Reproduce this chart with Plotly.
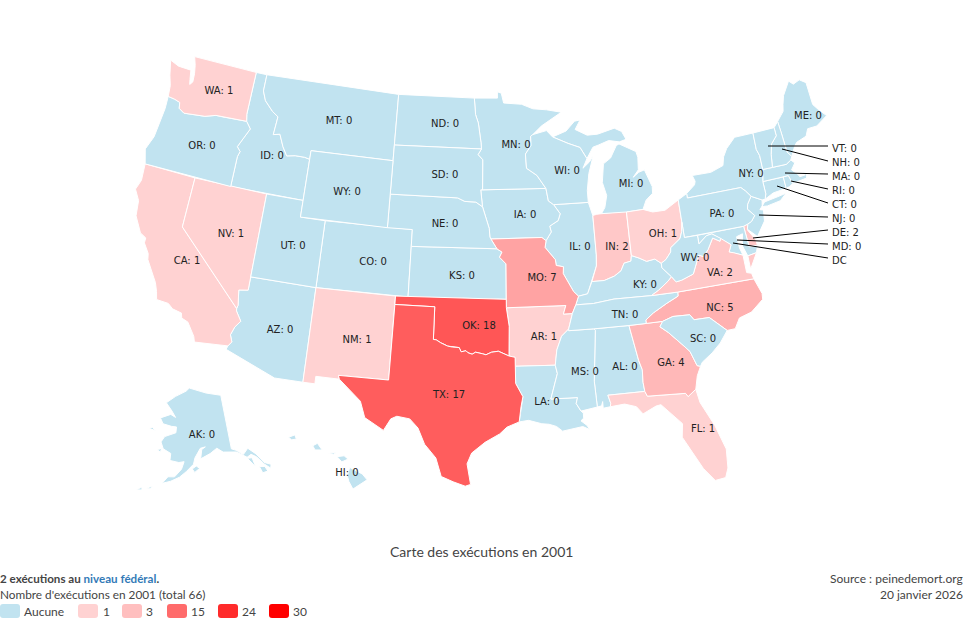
import math
import numpy as np
import plotly.graph_objects as go

# Plotly's own US map needs a topojson from the CDN, so state outlines are kept here (lon, lat)
states = ["AL","AK","AZ","AR","CA","CO","CT","DE","DC","FL","GA","HI","ID","IL","IN","IA","KS","KY","LA","ME","MD","MA","MI","MN","MS","MO","MT","NE","NV","NH","NJ","NM","NY","NC","ND","OH","OK","OR","PA","RI","SC","SD","TN","TX","UT","VT","VA","WA","WV","WI","WY"]
executions = [0,0,0,1,1,0,0,2,None,1,4,0,0,0,2,0,0,0,0,0,0,0,0,0,0,7,0,0,1,0,0,1,0,5,0,1,18,0,0,0,0,0,0,17,0,0,2,1,0,0,0]

legend_values = [1, 3, 15, 24, 30]
legend_reds = [210, 191, 107, 43, 0]

red_river = [(-100,34.56),(-99.8,34.55),(-99.45,34.38),(-99.2,34.3),(-98.95,34.2),(-98.6,34.15),(-98.1,34.13),(-97.95,33.88),(-97.6,33.95),(-97.45,33.83),(-97.15,33.75),(-96.9,33.87),(-96.6,33.83),(-96.4,33.78),(-96.15,33.72),(-95.75,33.87),(-95.25,33.93),(-94.9,33.8),(-94.48,33.64)]

outlines = {
"WA": [[(-124.0,46.25),(-124.1,46.9),(-124.4,47.5),(-124.73,48.38),(-123.9,48.17),(-123.1,48.15),(-122.75,48.15),(-122.6,47.6),(-122.5,47.3),(-122.3,47.5),(-122.35,48.0),(-122.5,48.5),(-122.76,49.0),(-117.03,49),(-117.04,46.42),(-116.92,46.0),(-119.0,45.93),(-119.6,45.92),(-120.5,45.7),(-121.2,45.65),(-122.3,45.55),(-122.8,45.75),(-122.9,46.1),(-123.4,46.2)]],
"OR": [[(-124.2,42),(-124.55,42.85),(-124.15,43.7),(-124.05,44.7),(-123.95,45.5),(-124.0,46.25),(-123.4,46.2),(-122.9,46.1),(-122.8,45.75),(-122.3,45.55),(-121.2,45.65),(-120.5,45.7),(-119.6,45.92),(-119.0,45.93),(-116.92,46.0),(-116.47,45.6),(-116.85,45.0),(-117.22,44.4),(-116.9,44.15),(-117.03,43.83),(-117.03,42)]],
"ID": [[(-117.03,49),(-116.05,49),(-116.05,48.0),(-115.7,47.45),(-114.9,46.9),(-114.35,46.65),(-114.45,45.55),(-113.9,45.65),(-113.45,44.95),(-113.0,44.45),(-112.3,44.55),(-111.5,44.55),(-111.05,44.48),(-111.05,42),(-117.03,42),(-117.03,43.83),(-116.9,44.15),(-117.22,44.4),(-116.85,45.0),(-116.47,45.6),(-116.92,46.0),(-117.04,46.42)]],
"MT": [[(-116.05,49),(-104.05,49),(-104.05,45),(-111.05,45),(-111.05,44.48),(-111.5,44.55),(-112.3,44.55),(-113.0,44.45),(-113.45,44.95),(-113.9,45.65),(-114.45,45.55),(-114.35,46.65),(-114.9,46.9),(-115.7,47.45),(-116.05,48.0)]],
"WY": [[(-111.05,45),(-104.05,45),(-104.05,41),(-111.05,41)]],
"UT": [[(-114.05,42),(-111.05,42),(-111.05,41),(-109.05,41),(-109.05,37),(-114.05,37)]],
"CO": [[(-109.05,41),(-102.05,41),(-102.05,37),(-109.05,37)]],
"NM": [[(-109.05,37),(-103.0,37),(-103.05,32),(-106.62,32),(-106.53,31.78),(-108.2,31.78),(-108.2,31.33),(-109.05,31.33)]],
"AZ": [[(-114.05,37),(-109.05,37),(-109.05,31.33),(-111.07,31.33),(-114.8,32.5),(-114.72,32.72),(-114.5,33.0),(-114.7,33.4),(-114.5,33.9),(-114.15,34.3),(-114.6,34.85),(-114.63,35.0),(-114.57,35.2),(-114.74,36.1),(-114.05,36.2)]],
"NV": [[(-120,42),(-114.05,42),(-114.05,36.2),(-114.74,36.1),(-114.57,35.2),(-114.63,35.0),(-120,39)]],
"CA": [[(-124.2,42),(-120,42),(-120,39),(-114.63,35.0),(-114.6,34.85),(-114.15,34.3),(-114.5,33.9),(-114.7,33.4),(-114.5,33.0),(-114.72,32.72),(-117.12,32.53),(-117.25,32.85),(-117.9,33.6),(-118.4,33.75),(-118.5,34.03),(-119.2,34.15),(-119.6,34.4),(-120.5,34.45),(-120.65,34.9),(-120.9,35.4),(-121.9,36.6),(-122.0,36.95),(-122.5,37.5),(-122.5,37.8),(-123.0,38.0),(-123.7,38.9),(-123.85,39.8),(-124.35,40.4),(-124.1,41.0)]],
"ND": [[(-104.05,49),(-97.23,49),(-97.1,48.0),(-96.85,47.5),(-96.6,46.3),(-96.56,45.94),(-104.05,45.94)]],
"SD": [[(-104.05,45.94),(-96.56,45.94),(-96.85,45.6),(-96.45,45.3),(-96.45,43.5),(-96.6,43.5),(-96.45,42.5),(-97.0,42.77),(-97.9,42.8),(-98.5,43.0),(-104.05,43)]],
"NE": [[(-104.05,43),(-98.5,43),(-97.9,42.8),(-97.0,42.77),(-96.45,42.5),(-96.1,41.7),(-95.9,41.2),(-95.85,40.7),(-95.77,40.58),(-95.3,40),(-102.05,40),(-102.05,41),(-104.05,41)]],
"KS": [[(-102.05,40),(-95.3,40),(-94.9,39.8),(-95.1,39.5),(-94.6,39.1),(-94.62,37),(-102.05,37)]],
"OK": [[(-103,37),(-94.62,37),(-94.62,36.5),(-94.43,35.4)] + red_river[::-1] + [(-100,36.5),(-103,36.5)]],
"TX": [[(-103,36.5),(-100,36.5)] + red_river + [(-94.04,33.55),(-94.04,33.02),(-94.04,32.0),(-93.55,31.2),(-93.7,30.6),(-93.85,29.7),(-94.7,29.4),(-95.2,29.0),(-96.2,28.5),(-97.1,27.85),(-97.4,27.2),(-97.15,25.96),(-97.5,25.85),(-98.3,26.1),(-99.1,26.4),(-99.5,27.5),(-100.3,28.3),(-100.8,29.25),(-101.4,29.77),(-102.3,29.88),(-102.7,29.7),(-103.15,28.98),(-104.5,29.65),(-104.9,30.6),(-106.0,31.4),(-106.53,31.78),(-106.62,32),(-103.05,32)]],
"MN": [[(-97.23,49),(-95.15,49),(-95.15,49.38),(-94.8,49.3),(-94.6,48.7),(-93.0,48.6),(-92.0,48.3),(-90.8,48.2),(-89.5,48.0),(-91.3,47.25),(-92.1,46.75),(-92.3,46.65),(-92.29,46.1),(-92.8,45.6),(-92.75,44.75),(-91.9,44.3),(-91.2,43.5),(-96.45,43.5),(-96.45,45.3),(-96.85,45.6),(-96.56,45.94),(-96.6,46.3),(-96.85,47.5),(-97.1,48.0)]],
"IA": [[(-96.6,43.5),(-91.2,43.5),(-91.05,42.75),(-90.64,42.51),(-90.15,41.95),(-90.35,41.55),(-91.05,41.25),(-90.95,40.9),(-91.4,40.4),(-91.72,40.6),(-95.77,40.58),(-95.85,40.7),(-95.9,41.2),(-96.1,41.7),(-96.45,42.5)]],
"MO": [[(-95.77,40.58),(-91.72,40.6),(-91.4,40.4),(-91.5,40.0),(-90.75,39.25),(-90.7,38.9),(-90.15,38.8),(-90.2,38.4),(-89.5,37.3),(-89.15,37.0),(-89.4,36.5),(-89.7,36.0),(-90.37,36.0),(-90.15,36.5),(-94.62,36.5),(-94.62,37),(-94.6,39.1),(-95.1,39.5),(-94.9,39.8),(-95.3,40)]],
"AR": [[(-94.62,36.5),(-90.15,36.5),(-90.37,36.0),(-89.7,36.0),(-90.05,35.1),(-90.6,34.7),(-91.0,33.9),(-91.17,33.0),(-94.04,33.02),(-94.04,33.55),(-94.48,33.64),(-94.43,35.4)]],
"LA": [[(-94.04,33.02),(-91.17,33.0),(-91.05,32.5),(-91.6,31.0),(-89.73,31.0),(-89.85,30.65),(-89.55,30.18),(-89.4,30.05),(-89.4,29.75),(-89.6,29.6),(-89.2,29.3),(-89.05,29.05),(-89.5,29.25),(-90.1,29.15),(-90.9,29.05),(-91.3,29.35),(-91.8,29.5),(-92.3,29.55),(-93.2,29.78),(-93.85,29.7),(-93.7,30.6),(-93.55,31.2),(-94.04,32.0)]],
"MS": [[(-90.05,35.0),(-88.2,35.0),(-88.1,34.9),(-88.47,31.9),(-88.4,30.35),(-89.55,30.18),(-89.85,30.65),(-89.73,31.0),(-91.6,31.0),(-91.05,32.5),(-91.17,33.0),(-91.0,33.9),(-90.6,34.7),(-90.05,35.1)]],
"AL": [[(-88.2,35.0),(-85.6,35.0),(-85.18,32.87),(-85.0,32.3),(-85.05,31.55),(-85.0,31.0),(-87.6,31.0),(-87.45,30.5),(-87.5,30.3),(-88.0,30.25),(-88.0,30.65),(-88.1,30.4),(-88.4,30.35),(-88.47,31.9),(-88.1,34.9)]],
"GA": [[(-85.6,35.0),(-83.1,35.0),(-83.35,34.7),(-82.8,34.3),(-81.95,33.5),(-81.45,33.0),(-81.1,32.1),(-80.87,32.03),(-81.2,31.5),(-81.45,30.72),(-82.05,30.36),(-82.2,30.57),(-84.86,30.7),(-85.0,31.0),(-85.05,31.55),(-85.0,32.3),(-85.18,32.87)]],
"FL": [[(-87.6,31.0),(-85.0,31.0),(-84.86,30.7),(-82.2,30.57),(-82.05,30.36),(-81.45,30.72),(-81.3,29.9),(-80.9,29.05),(-80.55,28.4),(-80.05,26.9),(-80.15,25.75),(-80.4,25.2),(-81.1,25.13),(-81.75,25.95),(-82.15,26.7),(-82.65,27.6),(-82.85,28.0),(-82.7,28.8),(-83.4,29.5),(-84.0,30.1),(-84.35,30.05),(-85.3,29.68),(-85.7,30.15),(-86.5,30.38),(-87.5,30.3),(-87.45,30.5)]],
"SC": [[(-83.1,35.0),(-82.3,35.2),(-81.05,35.15),(-80.8,34.82),(-79.67,34.8),(-78.55,33.86),(-79.2,33.2),(-79.9,32.7),(-80.7,32.25),(-80.87,32.03),(-81.1,32.1),(-81.45,33.0),(-81.95,33.5),(-82.8,34.3),(-83.35,34.7)]],
"NC": [[(-84.32,35.0),(-83.1,35.0),(-82.3,35.2),(-81.05,35.15),(-80.8,34.82),(-79.67,34.8),(-78.55,33.86),(-77.95,33.87),(-77.5,34.45),(-76.55,34.65),(-75.55,35.25),(-75.5,35.6),(-75.87,36.55),(-81.68,36.59),(-81.7,36.35),(-82.6,36.03),(-83.7,35.57),(-84.32,35.2)]],
"TN": [[(-90.05,35.0),(-88.2,35.0),(-85.6,35.0),(-84.32,35.0),(-84.32,35.2),(-83.7,35.57),(-82.6,36.03),(-81.7,36.35),(-81.68,36.59),(-83.68,36.6),(-86.5,36.65),(-88.07,36.5),(-89.4,36.5),(-89.7,36.0),(-90.05,35.1)]],
"KY": [[(-89.4,36.5),(-88.07,36.5),(-86.5,36.65),(-83.68,36.6),(-83.1,36.85),(-82.3,37.3),(-81.97,37.54),(-82.6,38.15),(-82.6,38.42),(-83.05,38.72),(-83.7,38.65),(-84.25,38.9),(-84.82,39.1),(-84.9,38.78),(-85.45,38.7),(-85.75,38.27),(-86.3,38.0),(-87.1,37.8),(-88.05,37.8),(-88.45,37.1),(-89.15,37.0)]],
"IL": [[(-90.64,42.51),(-87.8,42.5),(-87.53,41.7),(-87.53,39.35),(-87.6,38.7),(-88.05,37.8),(-88.45,37.1),(-89.15,37.0),(-89.5,37.3),(-90.2,38.4),(-90.15,38.8),(-90.7,38.9),(-90.75,39.25),(-91.5,40.0),(-91.4,40.4),(-90.95,40.9),(-91.05,41.25),(-90.35,41.55),(-90.15,41.95)]],
"IN": [[(-87.53,41.7),(-87.2,41.75),(-86.82,41.76),(-84.8,41.76),(-84.82,39.1),(-84.9,38.78),(-85.45,38.7),(-85.75,38.27),(-86.3,38.0),(-87.1,37.8),(-88.05,37.8),(-87.6,38.7),(-87.53,39.35)]],
"OH": [[(-84.8,41.7),(-83.45,41.73),(-82.7,41.5),(-81.7,41.5),(-80.52,41.98),(-80.52,40.64),(-80.65,40.1),(-80.87,39.7),(-81.7,39.25),(-81.75,39.0),(-82.2,38.6),(-82.6,38.42),(-83.05,38.72),(-83.7,38.65),(-84.25,38.9),(-84.82,39.1)]],
"MI": [[(-86.82,41.76),(-86.5,42.1),(-86.25,42.8),(-86.5,43.6),(-86.25,44.7),(-85.6,45.0),(-85.0,45.7),(-84.75,45.78),(-83.4,45.2),(-83.3,44.85),(-83.4,44.1),(-83.9,43.7),(-83.4,43.95),(-82.9,44.05),(-82.45,43.0),(-82.5,42.6),(-83.1,42.25),(-83.45,41.73),(-84.8,41.7)],
       [(-90.4,46.55),(-89.2,46.85),(-88.4,47.4),(-87.9,47.45),(-88.4,46.9),(-87.4,46.5),(-86.5,46.5),(-85.0,46.75),(-84.4,46.5),(-84.1,46.0),(-84.7,45.9),(-85.6,46.05),(-86.5,45.85),(-87.0,45.75),(-87.6,45.1),(-88.1,45.8),(-89.1,46.1)]],
"WI": [[(-92.1,46.75),(-90.9,46.95),(-90.4,46.55),(-89.1,46.1),(-88.1,45.8),(-87.6,45.1),(-88.0,44.55),(-87.4,44.9),(-87.05,45.25),(-87.55,44.2),(-87.8,43.2),(-87.8,42.5),(-90.64,42.51),(-91.05,42.75),(-91.2,43.5),(-91.9,44.3),(-92.75,44.75),(-92.8,45.6),(-92.29,46.1),(-92.3,46.65)]],
"PA": [[(-80.52,41.98),(-79.76,42.27),(-79.76,42.0),(-75.35,42.0),(-75.05,41.75),(-74.7,41.36),(-75.1,40.95),(-75.2,40.65),(-74.75,40.2),(-75.1,39.9),(-75.42,39.8),(-75.79,39.72),(-80.52,39.72),(-80.52,40.64)]],
"NY": [[(-79.76,42.27),(-79.0,42.7),(-78.9,42.9),(-79.05,43.27),(-77.5,43.25),(-76.4,43.5),(-76.2,44.0),(-75.8,44.45),(-74.95,45.0),(-73.35,45.0),(-73.4,44.0),(-73.25,43.6),(-73.27,42.75),(-73.5,42.05),(-73.5,41.3),(-73.65,41.0),(-73.9,41.0),(-74.7,41.36),(-75.05,41.75),(-75.35,42.0),(-79.76,42.0)],
       [(-74.03,40.62),(-73.75,40.85),(-72.6,40.97),(-71.9,41.05),(-72.5,40.7),(-73.6,40.58)]],
"NJ": [[(-74.7,41.36),(-73.9,41.0),(-74.0,40.65),(-74.25,40.47),(-73.98,40.4),(-74.1,39.75),(-74.9,38.95),(-75.55,39.5),(-75.42,39.8),(-75.1,39.9),(-74.75,40.2),(-75.2,40.65),(-75.1,40.95)]],
"DE": [[(-75.79,39.72),(-75.42,39.8),(-75.55,39.45),(-75.1,38.8),(-75.05,38.45),(-75.7,38.46)]],
"MD": [[(-79.48,39.72),(-75.79,39.72),(-75.7,38.46),(-75.05,38.45),(-75.25,38.03),(-75.95,37.95),(-76.2,38.6),(-76.0,39.3),(-76.5,39.2),(-76.45,38.5),(-76.3,38.05),(-76.95,38.3),(-77.3,38.4),(-77.04,38.8),(-77.5,39.1),(-77.75,39.3),(-78.35,39.65),(-78.8,39.6),(-79.48,39.2)]],
"DC": [[(-77.12,38.93),(-77.04,39.0),(-76.91,38.89),(-77.04,38.79)]],
"VA": [[(-83.68,36.6),(-81.68,36.59),(-75.87,36.55),(-75.95,36.9),(-76.3,37.0),(-76.3,37.55),(-76.3,38.05),(-76.95,38.3),(-77.3,38.4),(-77.04,38.8),(-77.5,39.1),(-77.75,39.3),(-77.83,39.13),(-78.35,39.4),(-78.87,38.77),(-79.3,38.42),(-79.65,38.55),(-80.3,37.5),(-81.25,37.25),(-81.68,37.2),(-81.97,37.54),(-82.3,37.3),(-83.1,36.85)],
       [(-75.25,38.03),(-75.95,37.95),(-75.95,37.15),(-75.6,37.6)]],
"WV": [[(-80.52,40.64),(-80.52,39.72),(-79.48,39.72),(-79.48,39.2),(-78.8,39.6),(-78.35,39.65),(-77.75,39.3),(-77.83,39.13),(-78.35,39.4),(-78.87,38.77),(-79.3,38.42),(-79.65,38.55),(-80.3,37.5),(-81.25,37.25),(-81.68,37.2),(-81.97,37.54),(-82.6,38.15),(-82.6,38.42),(-82.2,38.6),(-81.75,39.0),(-81.7,39.25),(-80.87,39.7),(-80.65,40.1)]],
"CT": [[(-73.5,42.05),(-71.8,42.02),(-71.8,41.42),(-71.85,41.32),(-72.9,41.25),(-73.65,41.0),(-73.5,41.3)]],
"RI": [[(-71.8,42.02),(-71.38,42.02),(-71.2,41.5),(-71.5,41.37),(-71.85,41.32),(-71.8,41.42)]],
"MA": [[(-73.5,42.05),(-73.27,42.75),(-72.46,42.73),(-71.3,42.7),(-70.85,42.88),(-70.6,42.65),(-71.0,42.3),(-70.6,41.95),(-70.5,41.78),(-70.05,41.8),(-70.2,42.07),(-69.95,41.85),(-70.0,41.6),(-70.65,41.55),(-71.2,41.5),(-71.38,42.02),(-71.8,42.02)]],
"VT": [[(-73.35,45.0),(-71.5,45.0),(-71.5,44.5),(-72.05,44.1),(-72.3,43.5),(-72.46,42.73),(-73.27,42.75),(-73.25,43.6),(-73.4,44.0)]],
"NH": [[(-71.5,45.0),(-71.08,45.3),(-71.03,44.65),(-70.98,43.4),(-70.7,43.07),(-70.85,42.88),(-71.3,42.7),(-72.46,42.73),(-72.3,43.5),(-72.05,44.1),(-71.5,44.5)]],
"ME": [[(-71.08,45.3),(-70.4,45.8),(-70.25,46.2),(-70.0,46.7),(-69.23,47.46),(-68.9,47.2),(-68.3,47.35),(-67.8,47.07),(-67.8,45.7),(-67.45,45.3),(-66.95,44.82),(-68.0,44.4),(-68.8,44.4),(-69.1,44.0),(-70.0,43.8),(-70.25,43.6),(-70.7,43.07),(-70.98,43.4),(-71.03,44.65)]],
"AK": [[(-141,69.65),(-141,60.3),(-139.5,59.9),(-137.5,58.9),(-135.5,59.75),(-133.4,58.4),(-131.8,56.6),(-130,55.9),(-130.5,55.3),(-132,56.4),(-133.5,57.9),(-135,58.6),(-136.5,58.3),(-139.5,59.6),(-144,60.0),(-146,60.8),(-148.5,60.0),(-151.8,59.2),(-151.3,60.8),(-150.0,61.2),(-151.8,61.0),(-153.7,59.4),(-154.2,58.3),(-156.5,57.0),(-158.5,56.0),(-161,55.2),(-163.5,54.65),(-162,55.9),(-160,56.0),(-158,57.4),(-157.3,58.7),(-159,58.5),(-162,58.7),(-162,59.9),(-164.8,60.5),(-166,61.6),(-165,62.6),(-163,63.1),(-161,63.5),(-161,64.5),(-163,64.5),(-166.5,64.7),(-168,65.6),(-164,66.5),(-161.8,66.1),(-163.7,67.1),(-166.8,68.35),(-163,69.7),(-158,70.8),(-156.5,71.35),(-152,70.85),(-148,70.4)],
       [(-154.6,57.5),(-153.3,58.0),(-152.2,57.6),(-153.8,56.9)],
       [(-136.5,58.1),(-135,58.0),(-134.7,56.3),(-135.6,57.3)],
       [(-133.6,56.2),(-132,55.9),(-131.6,55.0),(-133.2,55)],
       [(-167.8,53.3),(-166.2,53.95),(-166.6,53.4)],
       [(-170.5,52.7),(-169,53.4),(-168.9,52.9)],
       [(-166.9,60.2),(-165.2,60.5),(-165.7,59.9)],
       [(-171.5,63.4),(-168.8,63.3),(-170.3,63.7)]],
"HI": [[(-155.9,20.25),(-155.1,19.85),(-154.8,19.5),(-155.7,18.95),(-155.95,19.4),(-156.05,19.75)],
       [(-156.7,20.9),(-156.25,20.95),(-156.0,20.75),(-156.4,20.58)],
       [(-157.3,21.1),(-156.75,21.17),(-156.9,21.05)],
       [(-158.25,21.55),(-157.95,21.7),(-157.65,21.3),(-158.1,21.3)],
       [(-159.8,22.05),(-159.4,22.2),(-159.3,21.95),(-159.6,21.9)]],
}

label_states = ["WA","OR","CA","NV","ID","MT","WY","UT","AZ","CO","NM","ND","SD","NE","KS","OK","TX","MN","IA","MO","AR","LA","WI","IL","MI","IN","OH","KY","TN","MS","AL","GA","FL","SC","NC","VA","WV","PA","NY","ME","AK","HI"]
label_x = [219,202,187,231,272,339,347,293,280,373,357,445,445,445,462,479,449,516,525,542,544,547,567,580,631,617,663,645,625,585,625,671,703,703,720,720,695,722,751,808,202,347]
label_y = [91,146,261,234,156,121,192,246,330,262,340,124,175,224,276,326,395,145,215,278,337,402,171,247,184,247,234,285,315,372,367,363,429,339,308,273,258,214,174,116,435,473]

side_states = ["VT","NH","MA","RI","CT","NJ","DE","MD","DC"]
side_y = [149,163,177,191,205,219,233,247,261]
lead_x0 = [768,782,785,791,777,759,753,737,733]
lead_y0 = [146,149,173,181,186,215,238,240,243]
lead_y1 = [146,161,174,189,203,217,230,244,258]

swatch_x = [0,78,122,167,218,269]
swatch_labels = ["Aucune","1","3","15","24","30"]
swatch_label_x = [24,103,146,191,242,293]
swatch_colors = ["#c1e3f0","#ffd2d2","#ffbfbf","#ff6b6b","#ff2b2b","#ff0000"]

NO_EXEC = "#c1e3f0"
TXT = "#444444"


def albers(lon, lat, lat1, lat2, lon0):
    p1, p2 = math.radians(lat1), math.radians(lat2)
    n = (math.sin(p1) + math.sin(p2)) / 2
    c = math.cos(p1) ** 2 + 2 * n * math.sin(p1)
    rho = math.sqrt(c - 2 * n * math.sin(math.radians(lat))) / n
    theta = n * math.radians(lon - lon0)
    return rho * math.sin(theta), rho * math.cos(theta)


K = 958
OX, OY = 488, -957.5


def project(state, lon, lat):
    # same insets as d3 geoAlbersUsa
    if state == "AK":
        x0, y0 = albers(-156, 58.5, 55, 65, -154)
        x, y = albers(lon, lat, 55, 65, -154)
        return 188 + 0.35 * K * (x - x0), 463 + 0.35 * K * (y - y0)
    if state == "HI":
        x0, y0 = albers(-160, 19.9, 8, 18, -157)
        x, y = albers(lon, lat, 8, 18, -157)
        return 285 + K * (x - x0), 473 + K * (y - y0)
    x, y = albers(lon, lat, 29.5, 45.5, -96)
    return OX + K * x, OY + K * y


def state_color(v):
    if v is None or v == 0:
        return NO_EXEC
    red = round(np.interp(v, legend_values, legend_reds))
    return f"rgb(255,{red},{red})"


fig = go.Figure()

for st, v in zip(states, executions):
    xs, ys = [], []
    for ring in outlines[st]:
        pts = [project(st, lon, lat) for lon, lat in ring]
        xs += [p[0] for p in pts] + [pts[0][0], None]
        ys += [p[1] for p in pts] + [pts[0][1], None]
    fig.add_trace(go.Scatter(
        x=xs, y=ys, mode="lines", fill="toself",
        fillcolor=state_color(v), line=dict(color="white", width=1),
        hoveron="fills", name=st, text=st, hoverinfo="text",
    ))

value_of = dict(zip(states, executions))

# leader lines for the small eastern states
for i in range(len(side_states)):
    fig.add_trace(go.Scatter(
        x=[lead_x0[i], 828], y=[lead_y0[i], lead_y1[i]], mode="lines",
        line=dict(color="black", width=1), hoverinfo="skip",
    ))

fig.add_trace(go.Scatter(
    x=label_x, y=label_y, mode="text",
    text=[f"{s}: {value_of[s]}" for s in label_states],
    textfont=dict(family="DejaVu Sans", size=10, color="#222222"), hoverinfo="skip",
))
fig.add_trace(go.Scatter(
    x=[832] * len(side_states), y=side_y, mode="text", textposition="middle right",
    text=[s if value_of[s] is None else f"{s}: {value_of[s]}" for s in side_states],
    textfont=dict(family="DejaVu Sans", size=10, color="#222222"), hoverinfo="skip",
))

shapes = []
for x, c in zip(swatch_x, swatch_colors):
    x1, y0, y1, r = x + 20, 604, 618, 3
    shapes.append(dict(
        type="path", xref="x", yref="y", fillcolor=c, line_width=0,
        path=f"M{x+r},{y0} L{x1-r},{y0} Q{x1},{y0} {x1},{y0+r} L{x1},{y1-r} Q{x1},{y1} {x1-r},{y1} "
             f"L{x+r},{y1} Q{x},{y1} {x},{y1-r} L{x},{y0+r} Q{x},{y0} {x+r},{y0} Z",
    ))


def note(x, y, text, anchor="left", size=12):
    # annotations carry 2px of padding, pull them back so the text sits on x
    shift = {"left": -2, "right": 2, "center": 0}[anchor]
    return dict(x=x, y=y, xref="x", yref="y", text=text, showarrow=False, xanchor=anchor, xshift=shift,
                yanchor="middle", font=dict(family="Lato", size=size, color=TXT))


notes = [
    note(481, 551.5, "Carte des exécutions en 2001", "center", 14),
    note(0, 578, '<b>2 exécutions au </b><b><span style="color:#337ab7">niveau fédéral</span>.</b>', size=11.6),
    note(0, 594.5, "Nombre d'exécutions en 2001 (total 66)", size=11.8),
    note(963, 578, "Source : peinedemort.org", "right"),
    note(963, 594.5, "20 janvier 2026", "right"),
]
for x, t in zip(swatch_label_x, swatch_labels):
    notes.append(note(x, 611.5, t, size=12))

fig.update_layout(
    width=963, height=621, margin=dict(l=0, r=0, t=0, b=0),
    paper_bgcolor="white", plot_bgcolor="white", showlegend=False,
    xaxis=dict(range=[0, 963], visible=False, fixedrange=True),
    yaxis=dict(range=[621, 0], visible=False, fixedrange=True),
    shapes=shapes, annotations=notes,
)
fig.write_html("out.html", config={"displayModeBar": False}, post_script="document.body.style.margin='0';")
